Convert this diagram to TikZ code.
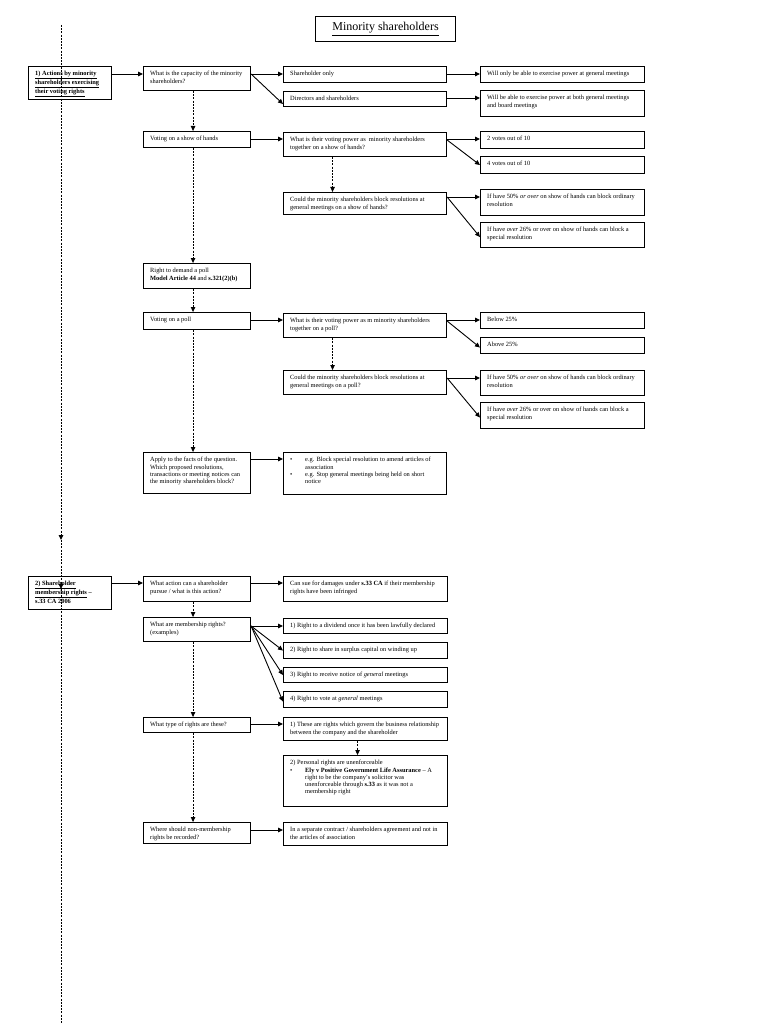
\documentclass[tikz,border=0pt]{standalone}
\usepackage{fontspec}
\setmainfont{Liberation Serif}
\usetikzlibrary{arrows.meta}
\tikzset{
  box/.style={draw, line width=1.1pt, fill=white, anchor=north west, inner sep=0pt},
  lbl/.style={anchor=north west, inner sep=0pt, xshift=7pt, yshift=-4.4pt, align=left, font=\fontsize{6.4}{7.3}\selectfont},
  arr/.style={line width=0.9pt, -{Triangle[length=5pt,width=4.5pt]}},
  darr/.style={line width=1pt, dash pattern=on 2pt off 1.2pt, -{Triangle[length=5pt,width=4.5pt]}},
  dline/.style={line width=1pt, dash pattern=on 2pt off 1.2pt},
}
\newcommand\bx[6]{\node[box,minimum width={#4pt-#2pt},minimum height={#5pt-#3pt},
  label={[lbl]north west:{\strut #6}}] (#1) at (#2,#3) {};}
\newcommand\bul{\makebox[15pt][l]{\textbullet}}
\newcommand\ind{\hspace*{15pt}}
\begin{document}
\begin{tikzpicture}[x=1pt,y=-1pt]
\useasboundingbox (0,0) rectangle (768,1024);
% title
\node[draw, line width=1.1pt, anchor=north west, minimum width=140pt, minimum height=25pt,
  inner sep=0pt, font=\fontsize{12}{14}\selectfont] (title) at (315,16) {\underline{Minority shareholders}};
% section 1
\bx{b1}{28}{66}{111}{99}{\textbf{\underline{1) Actions by minority}}\\\textbf{\underline{shareholders exercising}}\\\textbf{\underline{their voting rights}}}
\bx{q1}{143}{66}{250}{90}{What is the capacity of the minority\\shareholders?}
\bx{so}{283}{66}{446}{82}{Shareholder only}
\bx{ds}{283}{91}{446}{106}{Directors and shareholders}
\bx{wo}{480}{66}{644}{82}{Will only be able to exercise power at general meetings}
\bx{wb}{480}{90}{644}{116}{Will be able to exercise power at both general meetings\\and board meetings}
\bx{vsh}{143}{131}{250}{147}{Voting on a show of hands}
\bx{vpsh}{283}{132}{446}{156}{What is their voting power as\ \ minority shareholders\\together on a show of hands?}
\bx{v2}{480}{131}{644}{148}{2 votes out of 10}
\bx{v4}{480}{156}{644}{173}{4 votes out of 10}
\bx{csh}{283}{192}{446}{214}{Could the minority shareholders block resolutions at\\general meetings on a show of hands?}
\bx{oa}{480}{189}{644}{215}{If have 50\% \emph{or over} on show of hands can block ordinary\\resolution}
\bx{sa}{480}{222}{644}{247}{If have \emph{over} 26\% or over on show of hands can block a\\special resolution}
\bx{rdp}{143}{263}{250}{288}{Right to demand a poll\\\textbf{Model Article 44} and \textbf{s.321(2)(b)}}
\bx{vp}{143}{312}{250}{329}{Voting on a poll}
\bx{vpp}{283}{313}{446}{337}{What is their voting power as m minority shareholders\\together on a poll?}
\bx{bl}{480}{312}{644}{328}{Below 25\%}
\bx{ab}{480}{337}{644}{353}{Above 25\%}
\bx{cp}{283}{370}{446}{394}{Could the minority shareholders block resolutions at\\general meetings on a poll?}
\bx{ob}{480}{370}{644}{395}{If have 50\% \emph{or over} on show of hands can block ordinary\\resolution}
\bx{sb}{480}{402}{644}{428}{If have \emph{over} 26\% or over on show of hands can block a\\special resolution}
\bx{ap}{143}{452}{250}{493}{Apply to the facts of the question.\\Which proposed resolutions,\\transactions or meeting notices can\\the minority shareholders block?}
\bx{eg}{283}{452}{446}{494}{\bul e.g. Block special resolution to amend articles of\\\ind association\\\bul e.g. Stop general meetings being held on short\\\ind notice}
% section 2
\bx{b2}{28}{576}{111}{609}{\textbf{\underline{2) Shareholder}}\\\textbf{\underline{membership rights} –}\\\textbf{s.33 CA 2006}}
\bx{wa}{143}{576}{250}{601}{What action can a shareholder\\pursue / what is this action?}
\bx{cs}{283}{576}{447}{601}{Can sue for damages under \textbf{s.33 CA} if their membership\\rights have been infringed}
\bx{mr}{143}{617}{250}{641}{What are membership rights?\\(examples)}
\bx{r1}{283}{618}{447}{633}{1) Right to a dividend once it has been lawfully declared}
\bx{r2}{283}{642}{447}{658}{2) Right to share in surplus capital on winding up}
\bx{r3}{283}{667}{447}{682}{3) Right to receive notice of \emph{general} meetings}
\bx{r4}{283}{691}{447}{707}{4) Right to vote at \emph{general} meetings}
\bx{wt}{143}{717}{250}{732}{What type of rights are these?}
\bx{tr}{283}{717}{447}{740}{1) These are rights which govern the business relationship\\between the company and the shareholder}
\bx{pr}{283}{755}{447}{806}{2) Personal rights are unenforceable\\\bul\textbf{Ely v Positive Government Life Assurance} – A\\\ind right to be the company’s solicitor was\\\ind unenforceable through \textbf{s.33} as it was not a\\\ind membership right}
\bx{ws}{143}{822}{250}{843}{Where should non-membership\\rights be recorded?}
\bx{sc}{283}{822}{447}{845}{In a separate contract / shareholders agreement and not in\\the articles of association}
% left dashed spine
\coordinate (L0) at (61,25);
\coordinate (L1) at (61,540);
\coordinate (L2) at (61,589);
\coordinate (L3) at (61,1024);
\draw[darr] (L0) -- (L1);
\draw[darr] (L1) -- (L2);
\draw[dline] (L2) -- (L3);
% section 1 connectors
\draw[arr] ([yshift=-8pt]b1.north east) -- ([yshift=-8pt]b1.north east -| q1.west);
\draw[arr] ([yshift=-8pt]q1.north east) -- ([yshift=-8pt]q1.north east -| so.west);
\draw[arr] ([yshift=-8pt]q1.north east) -- ([yshift=-5pt]ds.west);
\draw[arr] ([yshift=-8pt]so.north east) -- ([yshift=-8pt]so.north east -| wo.west);
\draw[arr] ([yshift=-7pt]ds.north east) -- ([yshift=-7pt]ds.north east -| wb.west);
\draw[darr] ([xshift=-4pt]q1.south) -- ([xshift=-4pt]q1.south |- vsh.north);
\draw[arr] ([yshift=-8pt]vsh.north east) -- ([yshift=-8pt]vsh.north east -| vpsh.west);
\draw[arr] ([yshift=-7pt]vpsh.north east) -- ([yshift=-7pt]vpsh.north east -| v2.west);
\draw[arr] ([yshift=-8pt]vpsh.north east) -- (v4.west);
\draw[darr] ([xshift=-32.5pt]vpsh.south) -- ([xshift=-32.5pt]vpsh.south |- csh.north);
\draw[arr] ([yshift=-5pt]csh.north east) -- ([yshift=-5pt]csh.north east -| oa.west);
\draw[arr] ([yshift=-5pt]csh.north east) -- ([yshift=-2pt]sa.west);
\draw[darr] ([xshift=-4pt]vsh.south) -- ([xshift=-4pt]vsh.south |- rdp.north);
\draw[darr] ([xshift=-4pt]rdp.south) -- ([xshift=-4pt]rdp.south |- vp.north);
\draw[arr] ([yshift=-8pt]vp.north east) -- ([yshift=-8pt]vp.north east -| vpp.west);
\draw[arr] ([yshift=-7pt]vpp.north east) -- ([yshift=-7pt]vpp.north east -| bl.west);
\draw[arr] ([yshift=-8pt]vpp.north east) -- ([yshift=-2pt]ab.west);
\draw[darr] ([xshift=-32.5pt]vpp.south) -- ([xshift=-32.5pt]vpp.south |- cp.north);
\draw[arr] ([yshift=-8pt]cp.north east) -- ([yshift=-8pt]cp.north east -| ob.west);
\draw[arr] ([yshift=-8pt]cp.north east) -- ([yshift=-2pt]sb.west);
\draw[darr] ([xshift=-4pt]vp.south) -- ([xshift=-4pt]vp.south |- ap.north);
\draw[arr] ([yshift=-7pt]ap.north east) -- ([yshift=-7pt]ap.north east -| eg.west);
% section 2 connectors
\draw[arr] ([yshift=-7pt]b2.north east) -- ([yshift=-7pt]b2.north east -| wa.west);
\draw[arr] ([yshift=-7pt]wa.north east) -- ([yshift=-7pt]wa.north east -| cs.west);
\draw[darr] ([xshift=-4pt]wa.south) -- ([xshift=-4pt]wa.south |- mr.north);
\draw[arr] ([yshift=-9pt]mr.north east) -- ([yshift=-9pt]mr.north east -| r1.west);
\draw[arr] ([yshift=-9pt]mr.north east) -- (r2.west);
\draw[arr] ([yshift=-9pt]mr.north east) -- (r3.west);
\draw[arr] ([yshift=-9pt]mr.north east) -- ([yshift=-2pt]r4.west);
\draw[darr] ([xshift=-4pt]mr.south) -- ([xshift=-4pt]mr.south |- wt.north);
\draw[arr] ([yshift=-7pt]wt.north east) -- ([yshift=-7pt]wt.north east -| tr.west);
\draw[darr] ([xshift=-8pt]tr.south) -- ([xshift=-8pt]tr.south |- pr.north);
\draw[darr] ([xshift=-4pt]wt.south) -- ([xshift=-4pt]wt.south |- ws.north);
\draw[arr] ([yshift=-8pt]ws.north east) -- ([yshift=-8pt]ws.north east -| sc.west);
\end{tikzpicture}
\end{document}
